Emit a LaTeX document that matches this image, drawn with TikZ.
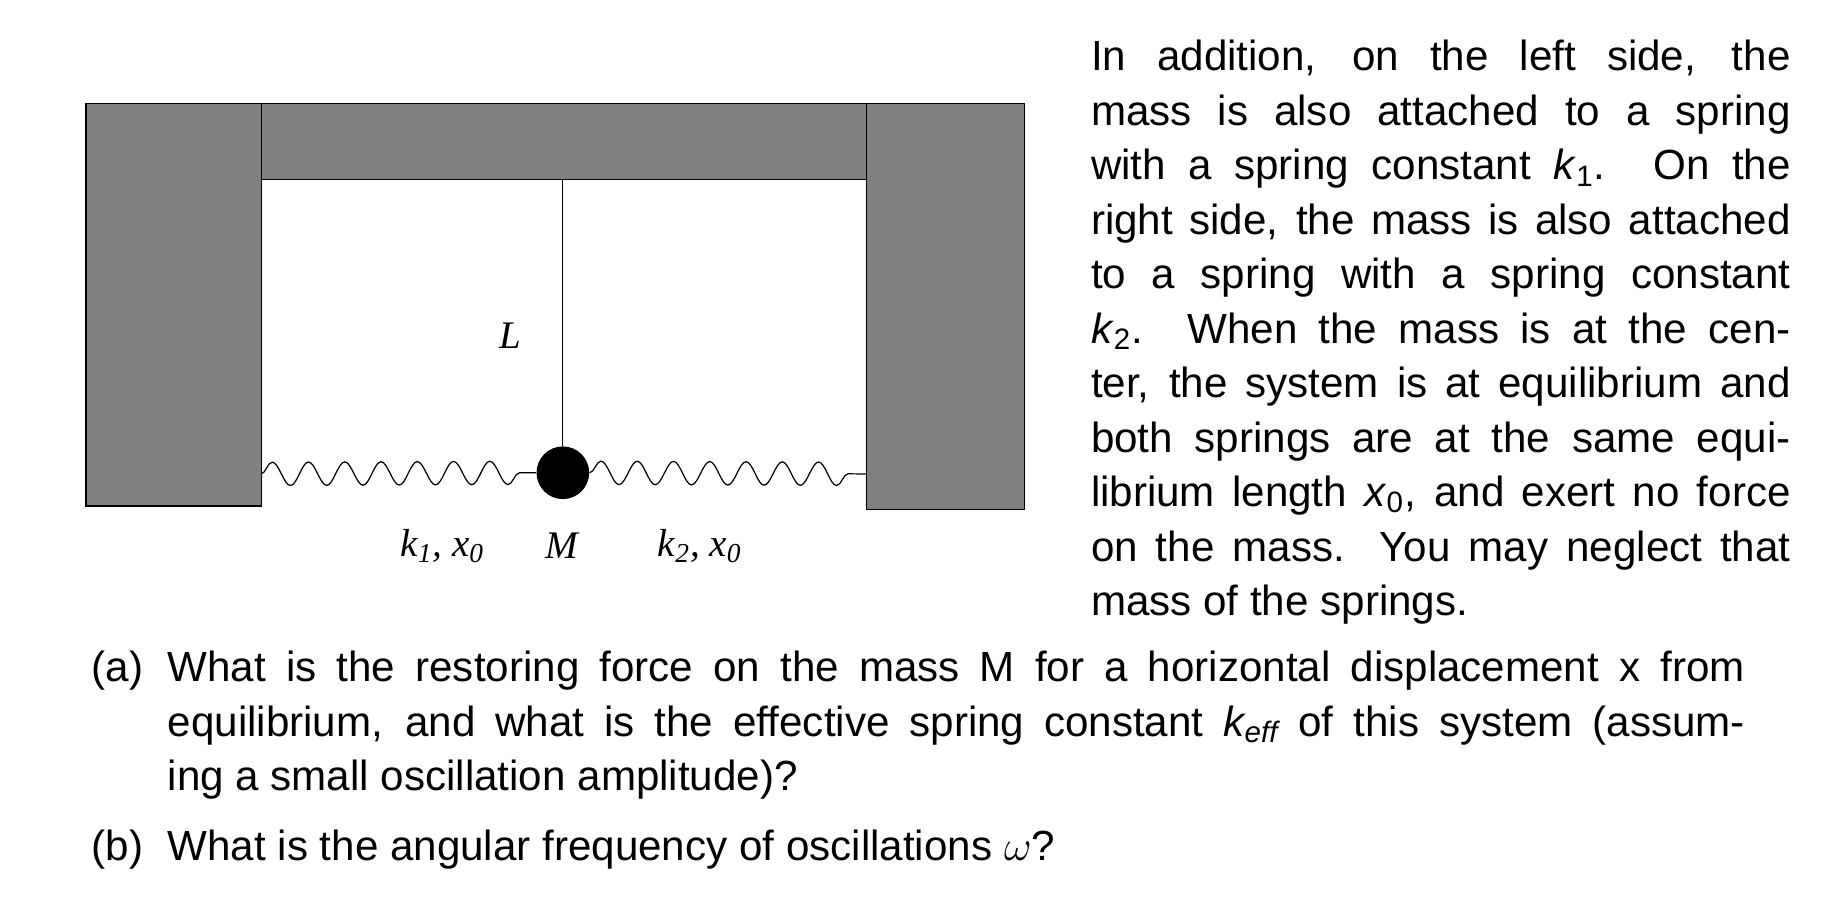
\documentclass[tikz,border=0pt]{standalone}
\usepackage{fontspec}
\setmainfont{Liberation Sans}
\newfontfamily\serifit{Liberation Serif}[ItalicFont=* Italic]
\usetikzlibrary{decorations.pathmorphing}
\newcommand{\kk}[1]{\textit{k}\textsubscript{#1}}
\begin{document}
\begin{tikzpicture}[x=0.02cm,y=-0.02cm,
  wall/.style={draw=black,fill=black!50,line width=0.6pt},
  springline/.style={decorate,decoration={snake,segment length=0.62cm,amplitude=0.2cm},line width=0.6pt},
  figlabel/.style={font=\fontsize{19}{22}\serifit\itshape,inner sep=0pt},
  body/.style={font=\fontsize{20.5}{26.5}\selectfont,inner sep=0pt}]
\useasboundingbox (0,0) rectangle (1569,774);
\node[wall,minimum width=3cm,minimum height=6.88cm,inner sep=0pt,anchor=north west] (lw) at (73,88) {};
\node[wall,minimum width=2.7cm,minimum height=6.94cm,inner sep=0pt,anchor=north west] (rw) at (740,88) {};
\node[wall,minimum width=10.34cm,minimum height=1.3cm,inner sep=0pt,anchor=north west] (top) at (223,88) {};
\node[circle,fill=black,minimum width=0.9cm,inner sep=0pt] (m) at (481,404) {};
\draw[line width=0.6pt] (top.south -| m) -- (m.north);
\coordinate (ls) at (223,405);
\coordinate (rs) at (740,405);
\draw[springline] (ls) -- (m.west);
\draw[springline] (m.east) -- (rs);
\node[figlabel] (L) at (436,287) {L};
\node[figlabel] (k1) at (378,467) {k\textsubscript{1}, x\textsubscript{0}};
\node[figlabel] (M) at (480,466) {M};
\node[figlabel] (k2) at (598,467) {k\textsubscript{2}, x\textsubscript{0}};
\node[body,anchor=north west,text width=11.96cm,align=justify] (p) at (932,34) {In addition, on the left side, the\linebreak
mass is also attached to a spring\linebreak
with a spring constant \kk{1}. On the\linebreak
right side, the mass is also attached\linebreak
to a spring with a spring constant\linebreak
\kk{2}. When the mass is at the cen-\linebreak
ter, the system is at equilibrium and\linebreak
both springs are at the same equi-\linebreak
librium length \textit{x}\textsubscript{0}, and exert no force\linebreak
on the mass. You may neglect that\linebreak
mass of the springs.};
\node[body,anchor=north west] (a) at (78,556) {(a)};
\node[body,anchor=north west,text width=26.96cm,align=justify] (qa) at (143,556) {What is the restoring force on the mass M for a horizontal displacement x from\linebreak
equilibrium, and what is the effective spring constant \textit{k\textsubscript{eff}} of this system (assum-\linebreak
ing a small oscillation amplitude)?};
\node[body,anchor=north west] (b) at (78,709) {(b)};
\node[body,anchor=north west] (qb) at (143,709) {What is the angular frequency of oscillations $\omega$?};
\end{tikzpicture}
\end{document}
